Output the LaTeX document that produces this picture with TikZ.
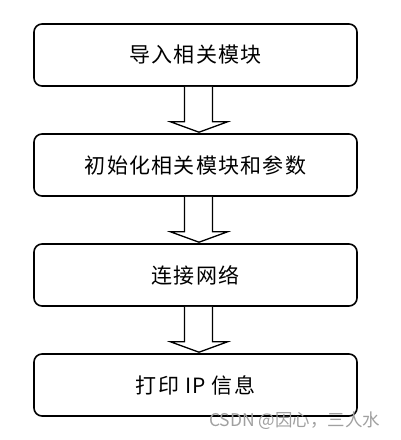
\documentclass[tikz,border=0pt]{standalone}
\usepackage{fontspec}
\setmainfont{Noto Sans CJK SC}
\newfontfamily\boxfont[LetterSpace=6]{Noto Sans CJK SC}
\usepackage{tikz}
\usetikzlibrary{positioning,calc}
\definecolor{mark}{HTML}{A0A0A0}

\begin{document}
\begin{tikzpicture}[
    x=1pt, y=-1pt,
    stage/.style = {
      draw=black,
      fill=white,
      line width=1.6pt,
      rounded corners=8pt,
      minimum width=323pt,
      minimum height=62pt,
      align=center,
      font=\boxfont\fontsize{21pt}{24pt}\selectfont
    },
    hollow/.style = {draw=black, fill=white, line width=1.3pt, line join=miter}
  ]
\useasboundingbox (0,0) rectangle (400,440);

\node[stage] (import) at (195.5, 55) {导入相关模块};
\node[stage] (init) at (195.5, 165) {初始化相关模块和参数};
\node[stage] (connect) at (195.5, 275) {连接网络};
\node[stage] (print) at (195.5, 385) {打印 IP 信息};

\foreach \a/\b in {import/init, init/connect, connect/print} {
  \draw[hollow] ($(\a.south)+(-11,0)$) -- ($(\a.south)+(-11,35)$)
    -- ($(\a.south)+(-25,35)$) -- ($(\b.north)+(3.5,-1)$)
    -- ($(\a.south)+(32,35)$) -- ($(\a.south)+(17,35)$)
    -- ($(\a.south)+(17,0)$);
}

\node[text=mark, font=\fontsize{17.5pt}{20pt}\selectfont, anchor=east] (wm) at (384, 421) {CSDN @因心，三人水};
\end{tikzpicture}
\end{document}
